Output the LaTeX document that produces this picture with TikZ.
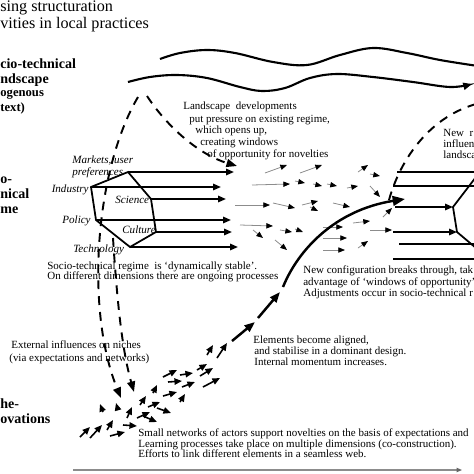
\documentclass[tikz,border=0pt]{standalone}
\usepackage{fontspec}
\setmainfont{Liberation Serif}
\usetikzlibrary{arrows.meta}
\begin{document}
\begin{tikzpicture}[x=0.02cm,y=-0.02cm,
 tx/.style={font=\fontsize{6.25}{7}\selectfont,inner sep=0pt,anchor=base west},
 ttl/.style={font=\fontsize{9.2}{10}\selectfont,inner sep=0pt,anchor=base west},
 lvl/.style={font=\fontsize{8}{9}\selectfont\bfseries,inner sep=0pt,anchor=base west},
 lvls/.style={font=\fontsize{7.2}{8}\selectfont\bfseries,inner sep=0pt,anchor=base west},
 dim/.style={font=\fontsize{6.3}{7}\selectfont\itshape,inner sep=0pt},
 wave/.style={line width=1.2pt},
 hexl/.style={line width=1pt,line join=miter},
 regl/.style={line width=1pt,-{Triangle[length=4.5pt,width=3.6pt]}},
 plainl/.style={line width=1pt},
 garr/.style={draw=black!45,line width=0.45pt,-{Triangle[length=3.8pt,width=3pt,color=black]}},
 narr/.style={line width=0.9pt,-{Triangle[length=4.3pt,width=3.6pt]}},
 chain/.style={line width=1.4pt,-{Triangle[length=6pt,width=4.5pt]}},
 bigchain/.style={line width=1.4pt,-{Triangle[length=7pt,width=5.5pt]}},
 dsh/.style={line width=1.1pt,dash pattern=on 5pt off 4pt},
 dsharr/.style={dsh,-{Triangle[length=6pt,width=4.5pt]}},
 axis/.style={draw=black!45,line width=0.6pt,-{Triangle[length=3pt,width=2.4pt,color=black!60]}}
]
\useasboundingbox (0,0) rectangle (474,474);
\clip (0,0) rectangle (474,474);

% titles
\node[ttl] (ti1) at (0,11) {sing structuration};
\node[ttl] (ti2) at (0,28) {vities in local practices};

% level labels
\node[lvl] (la1) at (0,68) {cio-technical};
\node[lvl] (la2) at (0,83) {ndscape};
\node[lvls] (la3) at (0,96) {ogenous};
\node[lvls] (la4) at (0,111) {text)};
\node[lvl] (re1) at (0,183) {o-};
\node[lvl] (re2) at (0,198) {nical};
\node[lvl] (re3) at (0,213) {me};
\node[lvl] (ni1) at (0,408) {he-};
\node[lvl] (ni2) at (0,423) {ovations};

% landscape waves
\draw[wave] plot[smooth,tension=0.6] coordinates {(160,59) (180,53) (207,50) (235,53) (273,62) (307,65) (340,55) (373,48) (407,53) (440,60) (478,66)};
\draw[wave,-{Triangle[length=5pt,width=4pt]}] plot[smooth,tension=0.6] coordinates {(128,82) (150,77) (177,75) (207,78) (240,87) (262,91) (285,88) (310,78) (337,74) (373,77) (413,82) (450,87) (472,84)};

% landscape text
\node[tx] (ls1) at (183,109) {Landscape\ \ developments};
\node[tx] (ls2) at (189,122) {put pressure on existing regime,};
\node[tx] (ls3) at (195,133) {which opens up,};
\node[tx] (ls4) at (200,145) {creating windows};
\node[tx] (ls5) at (207,157) {of opportunity for novelties};

% new regime influences landscape text
\node[tx] (nr1) at (443,136) {New\ \ r};
\node[tx] (nr2) at (443,147) {influen};
\node[tx] (nr3) at (443,158) {landsca};

% left regime hexagon
\coordinate (hT) at (128,172);
\coordinate (hLT) at (91,187);
\coordinate (hLB) at (96,220);
\coordinate (hB) at (130,247);
\coordinate (hRB) at (156,232);
\coordinate (hRT) at (151,199);
\draw[hexl] (hT) -- (hLT) -- (hLB) -- (hB) -- (hRB) -- (hRT) -- cycle;
\coordinate (eT) at (234,172);
\coordinate (eLT) at (221,187);
\coordinate (eRT) at (226,199);
\coordinate (eLB) at (231,220);
\coordinate (eRB) at (232,232);
\coordinate (eB) at (238,247);
\draw[regl] (hT) -- (eT);
\draw[regl] (hLT) -- (eLT);
\draw[regl] (hRT) -- (eRT);
\draw[regl] (hLB) -- (eLB);
\draw[regl] (hRB) -- (eRB);
\draw[regl] (hB) -- (eB);

% dimension labels
\node[dim,anchor=base west] (dm1) at (72,163) {Markets, user};
\node[dim,anchor=base west] (dm2) at (72,175) {preferences};
\node[dim,anchor=base east] (dm3) at (89,192) {Industry};
\node[dim,anchor=base west] (dm4) at (115,203) {Science};
\node[dim,anchor=base east] (dm5) at (91,223) {Policy};
\node[dim,anchor=base west] (dm6) at (122,233) {Culture};
\node[dim,anchor=base west] (dm7) at (73,252) {Technology};

% regime text
\node[tx] (rt1) at (47,269) {Socio-technical regime\ \ is `dynamically stable'.};
\node[tx] (rt2) at (47,279) {On different dimensions there are ongoing processes};

% dashed lines
\coordinate (pk1) at (138,97);
\coordinate (pk2) at (147,96);
\coordinate (nd1) at (121,398);
\coordinate (rs2) at (113,238);
\coordinate (nd2) at (134,392);
\coordinate (pr) at (237,166);
\draw[dsharr] (pk1) .. controls (95,170) and (85,310) .. (nd1);
\draw[dsharr] (rs2) .. controls (117,300) and (122,350) .. (nd2);
\draw[dsharr] (pk2) .. controls (168,128) and (200,155) .. (pr);
\coordinate (nb) at (389,200);
\coordinate (nl) at (480,103);
\draw[dsh] (nb) .. controls (400,160) and (430,115) .. (nl);

% field of regime arrows
\foreach \a/\b/\c/\d in {265/173/287/165, 300/173/322/165, 358/172/368/165, 370/174/380/176, 370/186/380/197,
 252/185/290/184, 295/181/305/183, 313/184/322/186, 327/184/337/186, 347/188/358/186,
 235/205/270/205, 273/203/295/208, 302/205/318/201, 310/207/318/211, 333/203/350/207, 383/217/392/208,
 240/225/273/226, 253/230/263/238, 280/230/292/232, 295/229/303/232, 275/240/287/250,
 323/227/343/227, 323/238/347/238, 323/250/345/250, 353/223/370/221, 370/230/392/230, 358/248/368/241}
 \draw[garr] (\a,\b) -- (\c,\d);

% niche arrows
\foreach \a/\b/\c/\d in {80/437/90/427, 90/438/102/425, 107/430/113/420, 110/436/125/432, 123/425/137/426,
 103/412/100/404, 118/410/116/403, 127/418/132/407, 137/418/150/412, 143/416/157/422,
 140/405/146/396, 148/407/160/402, 157/408/171/413, 153/393/157/385, 163/396/177/392, 180/402/185/394,
 163/377/177/370, 168/382/182/381, 182/387/195/382, 180/375/193/373, 197/370/207/364, 200/376/213/368,
 203/387/220/378, 207/355/213/345, 217/358/227/343}
 \draw[narr] (\a,\b) -- (\c,\d);

% breakthrough chain
\coordinate (c1a) at (232,341);
\coordinate (c1b) at (255,322);
\coordinate (c2a) at (258,318);
\coordinate (c2b) at (280,292);
\coordinate (c3a) at (283,287);
\coordinate (c3b) at (405,199);
\draw[chain] (c1a) -- (c1b);
\draw[chain] (c2a) -- (c2b);
\draw[bigchain] (c3a) .. controls (298,250) and (335,210) .. (c3b);

% new regime (right)
\coordinate (gTR) at (476,177);
\coordinate (gR1) at (453,207);
\coordinate (gR2) at (457,232);
\coordinate (gBR) at (476,248);
\draw[hexl] (gTR) -- (gR1) -- (gR2) -- (gBR);
\coordinate (s1) at (397,172); \coordinate (f1) at (476,172);
\coordinate (s2) at (393,186); \coordinate (f2) at (476,186);
\coordinate (s3) at (395,207);
\coordinate (s4) at (393,232);
\coordinate (s5) at (399,244); \coordinate (f5) at (476,244);
\coordinate (s6) at (393,259); \coordinate (f6) at (476,259);
\draw[plainl] (s1) -- (f1);
\draw[plainl] (s2) -- (f2);
\draw[regl] (s3) -- (gR1);
\draw[regl] (s4) -- (gR2);
\draw[plainl] (s5) -- (f5);
\draw[plainl] (s6) -- (f6);

% breakthrough text
\node[tx] (bt1) at (303,273) {New configuration breaks through, tak};
\node[tx] (bt2) at (303,285) {advantage of `windows of opportunity'};
\node[tx] (bt3) at (303,296) {Adjustments occur in socio-technical r};

% elements aligned text
\node[tx] (ea1) at (253,343) {Elements become aligned,};
\node[tx] (ea2) at (254,354) {and stabilise in a dominant design.};
\node[tx] (ea3) at (254,365) {Internal momentum increases.};

% external influences
\node[tx] (ex1) at (11,348) {External influences on niches};
\node[tx] (ex2) at (9,361) {(via expectations and networks)};

% niche text
\node[tx] (sn1) at (138,436) {Small networks of actors support novelties on the basis of expectations and};
\node[tx] (sn2) at (138,447) {Learning processes take place on multiple dimensions (co-construction).};
\node[tx] (sn3) at (138,457) {Efforts to link different elements in a seamless web.};

% time axis
\coordinate (ax0) at (73,470);
\coordinate (ax1) at (462,470);
\draw[axis] (ax0) -- (ax1);
\end{tikzpicture}
\end{document}
